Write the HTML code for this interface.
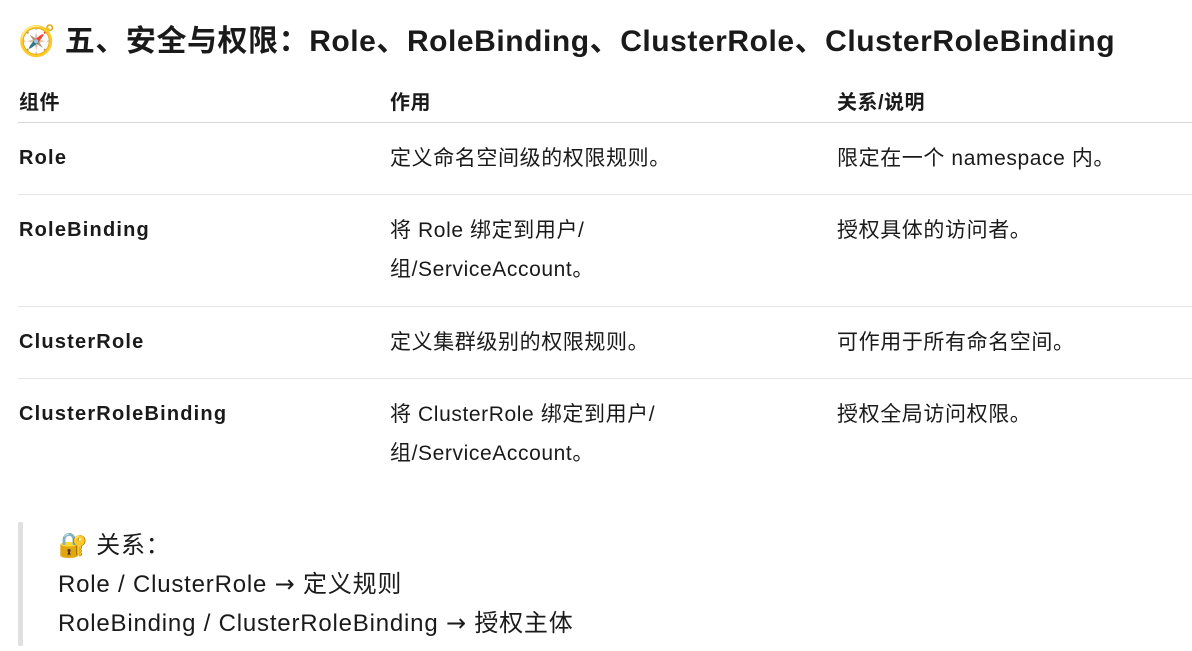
<!DOCTYPE html>
<html><head><meta charset="utf-8"><style>
body{margin:0;width:1192px;height:651px;background:#fff;font-family:"Liberation Sans","Noto Sans CJK SC",sans-serif;color:#1a1a1a;position:relative;overflow:hidden}
.a{position:absolute;white-space:nowrap}
h1{position:absolute;left:18px;top:20px;margin:0;font-size:30px;font-weight:bold;line-height:44px;white-space:nowrap;letter-spacing:0.55px}
.hd{font-weight:bold;font-size:20px;letter-spacing:0.5px}
.t{font-size:21px;line-height:39px;letter-spacing:0.6px}
.b{font-weight:bold;font-size:20px;letter-spacing:1.2px}
.ln{position:absolute;left:18px;width:1174px;height:1px;background:#e6e6e6}
.bar{position:absolute;left:18px;top:522px;width:5px;height:124px;background:#e0e0e0;border-radius:2px}
.q{font-size:24px;line-height:39px;left:58px;letter-spacing:0.8px}
.ar{font-family:"DejaVu Sans",sans-serif}
</style></head><body>
<h1>🧭 五、安全与权限：Role、RoleBinding、ClusterRole、ClusterRoleBinding</h1>
<div class="a hd" style="left:19px;top:86px">组件</div>
<div class="a hd" style="left:390px;top:86px">作用</div>
<div class="a hd" style="left:837px;top:86px">关系/说明</div>
<div class="ln" style="top:122px;background:#d8d8d8"></div>

<div class="a t b" style="left:19px;top:139px">Role</div>
<div class="a t" style="left:390px;top:139px">定义命名空间级的权限规则。</div>
<div class="a t" style="left:837px;top:139px">限定在一个 namespace 内。</div>
<div class="ln" style="top:194px"></div>

<div class="a t b" style="left:19px;top:211px">RoleBinding</div>
<div class="a t" style="left:390px;top:211px">将 Role 绑定到用户/<br>组/ServiceAccount。</div>
<div class="a t" style="left:837px;top:211px">授权具体的访问者。</div>
<div class="ln" style="top:306px"></div>

<div class="a t b" style="left:19px;top:323px">ClusterRole</div>
<div class="a t" style="left:390px;top:323px">定义集群级别的权限规则。</div>
<div class="a t" style="left:837px;top:323px">可作用于所有命名空间。</div>
<div class="ln" style="top:378px"></div>

<div class="a t b" style="left:19px;top:395px">ClusterRoleBinding</div>
<div class="a t" style="left:390px;top:395px">将 ClusterRole 绑定到用户/<br>组/ServiceAccount。</div>
<div class="a t" style="left:837px;top:395px">授权全局访问权限。</div>

<div class="bar"></div>
<div class="a q" style="top:526px">🔐 关系：<br>Role / ClusterRole <span class="ar">→</span> 定义规则<br>RoleBinding / ClusterRoleBinding <span class="ar">→</span> 授权主体</div>
</body></html>
